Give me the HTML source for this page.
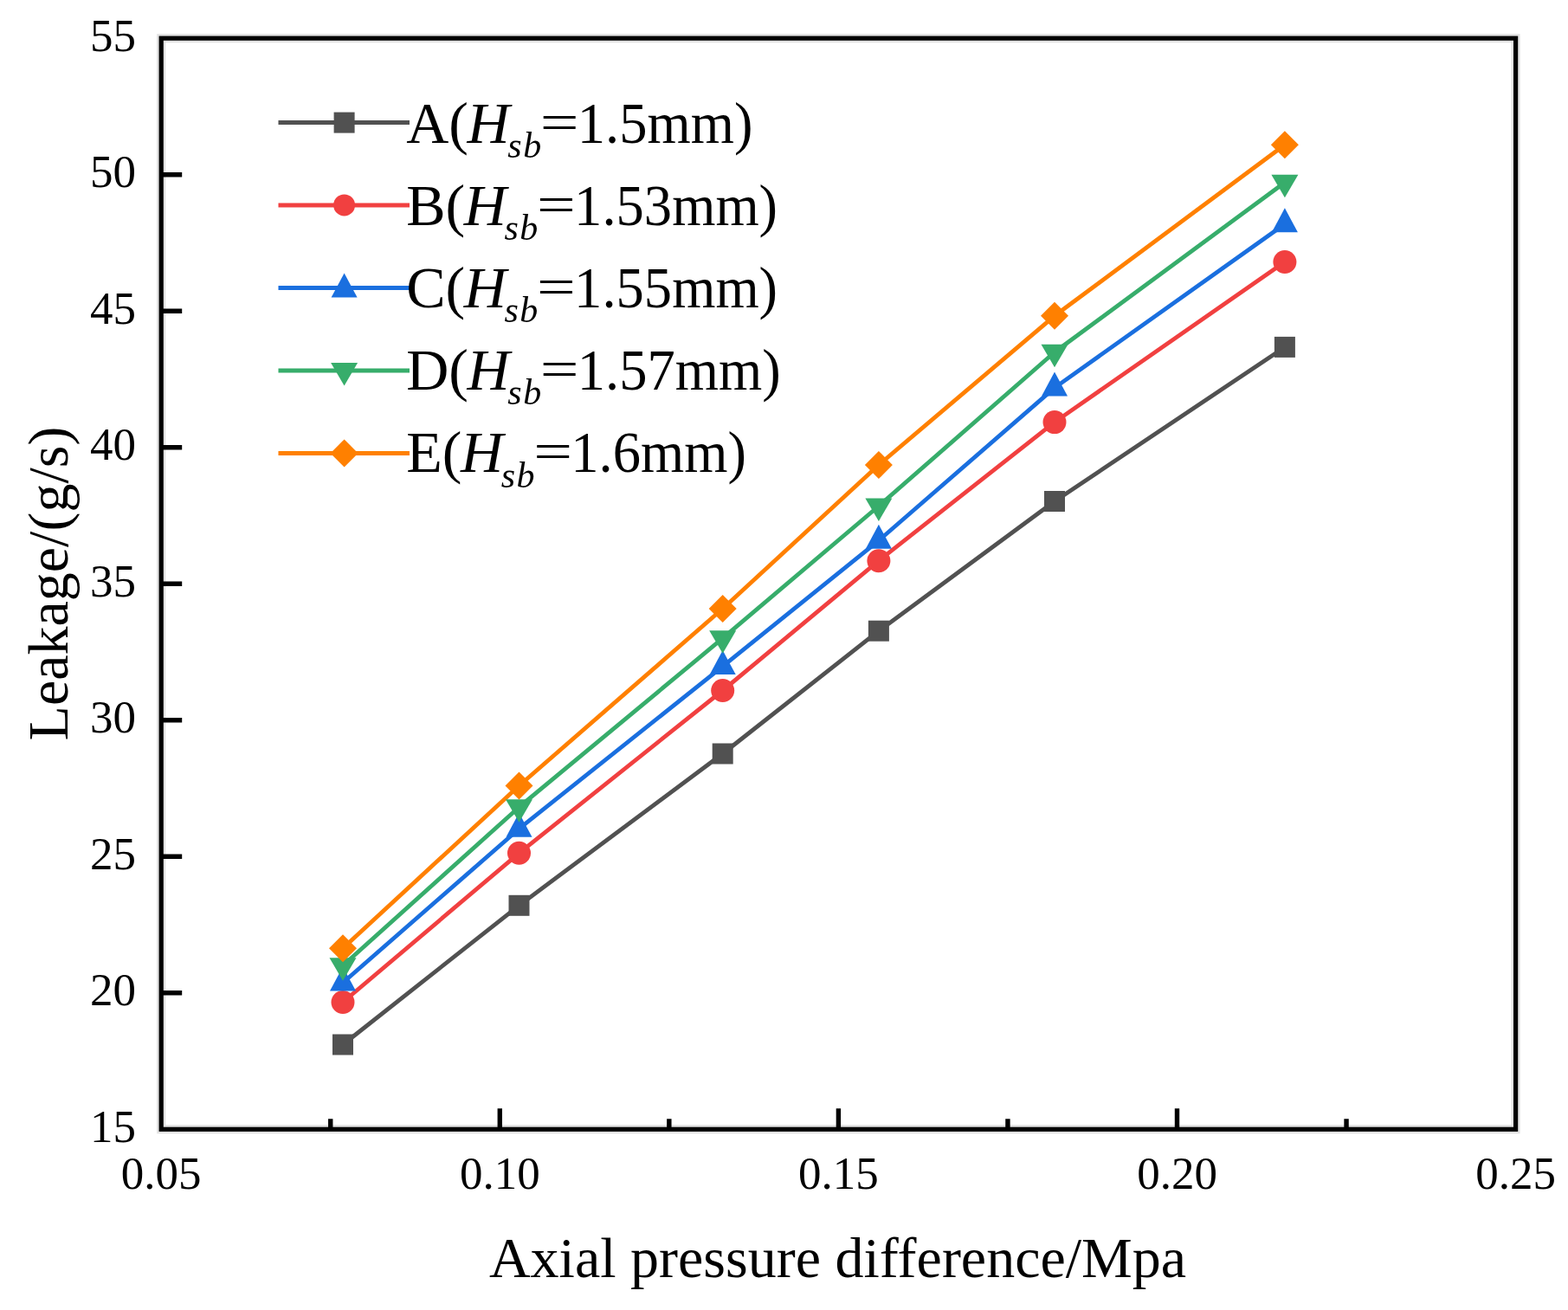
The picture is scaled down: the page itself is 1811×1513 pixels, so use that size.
<!DOCTYPE html><html><head><meta charset="utf-8"><title>Leakage vs axial pressure difference</title><style>html,body{margin:0;padding:0;background:#fff;}svg{display:block;}text{font-family:"Liberation Serif","Times New Roman",serif;fill:#000;}</style></head><body>
<svg width="1811" height="1513" viewBox="0 0 1811 1513">
<rect width="1811" height="1513" fill="#fff"/>
<rect x="186.2" y="44.2" width="1564.4" height="1260.1" fill="none" stroke="#e2e2e2" stroke-width="10"/>
<polyline points="396.0,1206.5 599.5,1045.8 834.7,870.5 1014.9,728.7 1218.0,579.0 1483.9,400.9" fill="none" stroke="#515151" stroke-width="4.8" stroke-linejoin="round"/>
<polyline points="396.0,1157.5 599.5,985.3 834.7,797.5 1014.9,647.7 1218.0,487.6 1483.9,302.5" fill="none" stroke="#F14040" stroke-width="4.8" stroke-linejoin="round"/>
<polyline points="396.0,1135.0 599.5,957.2 834.7,769.6 1014.9,624.3 1218.0,447.9 1483.9,258.8" fill="none" stroke="#1A6FDF" stroke-width="4.8" stroke-linejoin="round"/>
<polyline points="396.0,1115.3 599.5,932.2 834.7,737.2 1014.9,584.5 1218.0,406.8 1483.9,210.7" fill="none" stroke="#37AD6B" stroke-width="4.8" stroke-linejoin="round"/>
<polyline points="396.0,1095.3 599.5,907.5 834.7,703.0 1014.9,537.0 1218.0,364.8 1483.9,167.3" fill="none" stroke="#FF8000" stroke-width="4.8" stroke-linejoin="round"/>
<rect x="384.0" y="1194.5" width="24" height="24" fill="#515151"/>
<rect x="587.5" y="1033.8" width="24" height="24" fill="#515151"/>
<rect x="822.7" y="858.5" width="24" height="24" fill="#515151"/>
<rect x="1002.9" y="716.7" width="24" height="24" fill="#515151"/>
<rect x="1206.0" y="567.0" width="24" height="24" fill="#515151"/>
<rect x="1471.9" y="388.9" width="24" height="24" fill="#515151"/>
<circle cx="396.0" cy="1157.5" r="13.5" fill="#F14040"/>
<circle cx="599.5" cy="985.3" r="13.5" fill="#F14040"/>
<circle cx="834.7" cy="797.5" r="13.5" fill="#F14040"/>
<circle cx="1014.9" cy="647.7" r="13.5" fill="#F14040"/>
<circle cx="1218.0" cy="487.6" r="13.5" fill="#F14040"/>
<circle cx="1483.9" cy="302.5" r="13.5" fill="#F14040"/>
<polygon points="396.0,1116.5 411.0,1144.5 381.0,1144.5" fill="#1A6FDF"/>
<polygon points="599.5,938.7 614.5,966.7 584.5,966.7" fill="#1A6FDF"/>
<polygon points="834.7,751.1 849.7,779.1 819.7,779.1" fill="#1A6FDF"/>
<polygon points="1014.9,605.8 1029.9,633.8 999.9,633.8" fill="#1A6FDF"/>
<polygon points="1218.0,429.4 1233.0,457.4 1203.0,457.4" fill="#1A6FDF"/>
<polygon points="1483.9,240.3 1498.9,268.3 1468.9,268.3" fill="#1A6FDF"/>
<polygon points="380.5,1106.3 411.5,1106.3 396.0,1132.8" fill="#37AD6B"/>
<polygon points="584.0,923.2 615.0,923.2 599.5,949.7" fill="#37AD6B"/>
<polygon points="819.2,728.2 850.2,728.2 834.7,754.7" fill="#37AD6B"/>
<polygon points="999.4,575.5 1030.4,575.5 1014.9,602.0" fill="#37AD6B"/>
<polygon points="1202.5,397.8 1233.5,397.8 1218.0,424.3" fill="#37AD6B"/>
<polygon points="1468.4,201.7 1499.4,201.7 1483.9,228.2" fill="#37AD6B"/>
<polygon points="396.0,1079.3 412.0,1095.3 396.0,1111.3 380.0,1095.3" fill="#FF8000"/>
<polygon points="599.5,891.5 615.5,907.5 599.5,923.5 583.5,907.5" fill="#FF8000"/>
<polygon points="834.7,687.0 850.7,703.0 834.7,719.0 818.7,703.0" fill="#FF8000"/>
<polygon points="1014.9,521.0 1030.9,537.0 1014.9,553.0 998.9,537.0" fill="#FF8000"/>
<polygon points="1218.0,348.8 1234.0,364.8 1218.0,380.8 1202.0,364.8" fill="#FF8000"/>
<polygon points="1483.9,151.3 1499.9,167.3 1483.9,183.3 1467.9,167.3" fill="#FF8000"/>
<rect x="186.2" y="44.2" width="1564.4" height="1260.1" fill="none" stroke="#000" stroke-width="5.2" stroke-linejoin="miter"/>
<text x="157" y="1318.7" font-size="53" text-anchor="end">15</text>
<text x="157" y="1161.2" font-size="53" text-anchor="end">20</text>
<text x="157" y="1003.7" font-size="53" text-anchor="end">25</text>
<text x="157" y="846.2" font-size="53" text-anchor="end">30</text>
<text x="157" y="688.6" font-size="53" text-anchor="end">35</text>
<text x="157" y="531.1" font-size="53" text-anchor="end">40</text>
<text x="157" y="373.6" font-size="53" text-anchor="end">45</text>
<text x="157" y="216.1" font-size="53" text-anchor="end">50</text>
<text x="157" y="58.6" font-size="53" text-anchor="end">55</text>
<text x="186.2" y="1373" font-size="53" text-anchor="middle">0.05</text>
<text x="577.3" y="1373" font-size="53" text-anchor="middle">0.10</text>
<text x="968.4" y="1373" font-size="53" text-anchor="middle">0.15</text>
<text x="1359.5" y="1373" font-size="53" text-anchor="middle">0.20</text>
<text x="1750.6" y="1373" font-size="53" text-anchor="middle">0.25</text>
<path d="M186.2 1146.79H210.2 M186.2 989.27H210.2 M186.2 831.76H210.2 M186.2 674.25H210.2 M186.2 516.74H210.2 M186.2 359.23H210.2 M186.2 201.71H210.2 M577.30 1304.3V1280.3 M968.40 1304.3V1280.3 M1359.50 1304.3V1280.3 M381.75 1304.3V1292.3 M772.85 1304.3V1292.3 M1163.95 1304.3V1292.3 M1555.05 1304.3V1292.3" stroke="#000" stroke-width="5.4" fill="none"/>
<text x="967.5" y="1474.5" font-size="66" text-anchor="middle">Axial pressure difference/Mpa</text>
<text transform="translate(78.1 674) rotate(-90)" x="0" y="0" font-size="66" text-anchor="middle">Leakage/(g/s)</text>
<line x1="321.5" y1="141.6" x2="473" y2="141.6" stroke="#515151" stroke-width="5"/>
<rect x="385.6" y="129.6" width="24" height="24" fill="#515151"/>
<text x="469.2" y="164.5" font-size="68">A(</text>
<text x="539.5" y="164.5" font-size="68" font-style="italic">H</text>
<text x="586.3" y="182.0" font-size="42" font-style="italic" letter-spacing="1.5">sb</text>
<text transform="translate(623.7 160.5) scale(1.17 0.88)" font-size="68">=</text>
<text transform="translate(666.8 164.5) scale(0.95 1)" font-size="68">1.5mm)</text>
<line x1="321.5" y1="236.9" x2="473" y2="236.9" stroke="#F14040" stroke-width="5"/>
<circle cx="397.6" cy="236.9" r="12.5" fill="#F14040"/>
<text x="469.2" y="259.65" font-size="68">B(</text>
<text x="535.8" y="259.65" font-size="68" font-style="italic">H</text>
<text x="582.5" y="277.1" font-size="42" font-style="italic" letter-spacing="1.5">sb</text>
<text transform="translate(620.0 255.6) scale(1.17 0.88)" font-size="68">=</text>
<text transform="translate(663.1 259.65) scale(0.95 1)" font-size="68">1.53mm)</text>
<line x1="321.5" y1="332.5" x2="473" y2="332.5" stroke="#1A6FDF" stroke-width="5"/>
<polygon points="397.6,315.5 412.6,343.5 382.6,343.5" fill="#1A6FDF"/>
<text x="469.2" y="354.8" font-size="68">C(</text>
<text x="535.8" y="354.8" font-size="68" font-style="italic">H</text>
<text x="582.5" y="372.3" font-size="42" font-style="italic" letter-spacing="1.5">sb</text>
<text transform="translate(620.0 350.8) scale(1.17 0.88)" font-size="68">=</text>
<text transform="translate(663.1 354.8) scale(0.95 1)" font-size="68">1.55mm)</text>
<line x1="321.5" y1="428.0" x2="473" y2="428.0" stroke="#37AD6B" stroke-width="5"/>
<polygon points="382.1,419.0 413.1,419.0 397.6,445.5" fill="#37AD6B"/>
<text x="469.2" y="449.95" font-size="68">D(</text>
<text x="539.5" y="449.95" font-size="68" font-style="italic">H</text>
<text x="586.3" y="467.4" font-size="42" font-style="italic" letter-spacing="1.5">sb</text>
<text transform="translate(623.7 445.9) scale(1.17 0.88)" font-size="68">=</text>
<text transform="translate(666.8 449.95) scale(0.95 1)" font-size="68">1.57mm)</text>
<line x1="321.5" y1="523.4" x2="473" y2="523.4" stroke="#FF8000" stroke-width="5"/>
<polygon points="397.6,507.4 413.6,523.4 397.6,539.4 381.6,523.4" fill="#FF8000"/>
<text x="469.2" y="545.1" font-size="68">E(</text>
<text x="531.9" y="545.1" font-size="68" font-style="italic">H</text>
<text x="578.7" y="562.6" font-size="42" font-style="italic" letter-spacing="1.5">sb</text>
<text transform="translate(616.2 541.1) scale(1.17 0.88)" font-size="68">=</text>
<text transform="translate(659.2 545.1) scale(0.95 1)" font-size="68">1.6mm)</text>
</svg></body></html>
